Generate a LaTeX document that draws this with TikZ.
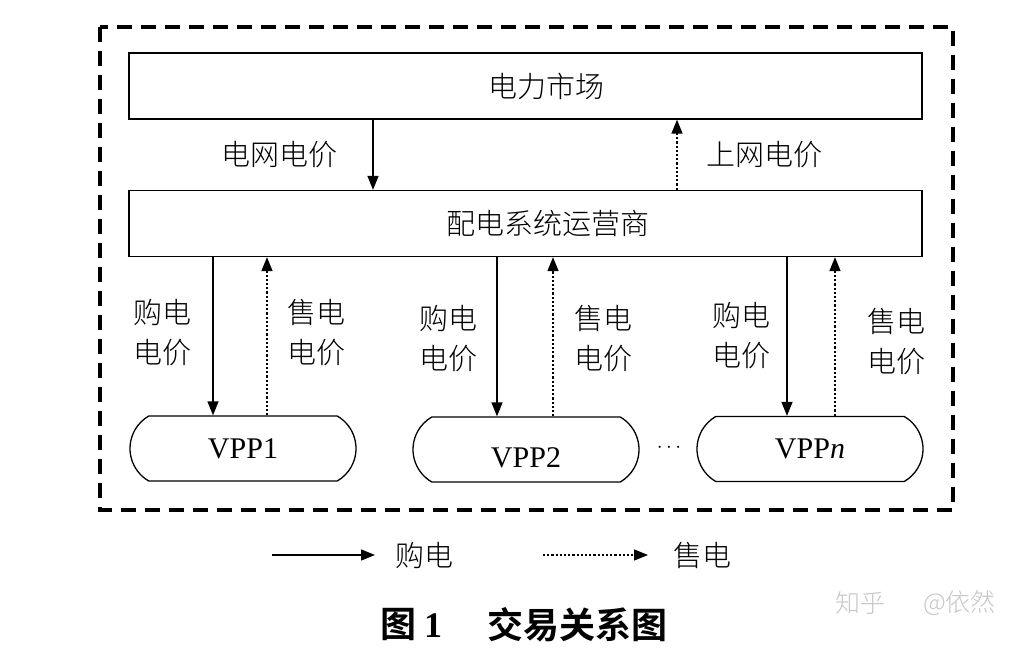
\documentclass[tikz,border=0pt]{standalone}
\usepackage{fontspec}
\setmainfont{Liberation Serif}
\newfontfamily\cjk{Noto Sans CJK SC Light}[BoldFont={Noto Sans CJK SC Bold}]
\usetikzlibrary{arrows.meta,shapes.misc}
\begin{document}
\begin{tikzpicture}[x=1pt,y=-1pt,
  box/.style={draw,line width=1.3pt,inner sep=0pt,minimum width=793pt,minimum height=66pt,
              font=\cjk\fontsize{29}{34}\selectfont},
  vpp/.style={draw,line width=1.3pt,rounded rectangle,rounded rectangle arc length=120,
              minimum width=226pt,minimum height=65pt,inner sep=0pt,
              font=\fontsize{30}{36}\selectfont},
  lbl/.style={font=\cjk\fontsize{29}{40}\selectfont,align=center,inner sep=0pt},
  buy/.style={line width=1.3pt,-{Triangle[length=14pt,width=11pt]}},
  sell/.style={line width=1.4pt,dash pattern=on 2.2pt off 2pt,-{Triangle[length=14pt,width=11pt]}},
  frame/.style={line width=4pt,dash pattern=on 15pt off 9pt}
]
\useasboundingbox (0,0) rectangle (1023,652);
\fill[white] (0,0) rectangle (1023,652);

% outer dashed frame
\draw[frame] (100,27) rectangle (953,510);

% main boxes
\node[box] (market) at (525.5,86) {\hspace*{42pt}电力市场};
\node[box] (dso) at (525.5,223.5) {\hspace*{44pt}配电系统运营商};

% VPP nodes
\node[vpp] (vpp1) at (243,448.5) {VPP1};
\node[vpp,text height=36pt,text depth=0pt] (vpp2) at (526,449.5) {VPP2};
\node[vpp] (vppn) at (810,449) {VPP\textit{n}};
\node[inner sep=0pt,font=\fontsize{22}{26}\selectfont] (dots) at (669,448) {$\cdots$};

% market <-> dso
\draw[buy] (market.south -| 373,0) -- (dso.north -| 373,0);
\draw[sell] (dso.north -| 677,0) -- (market.south -| 677,0);
\node[lbl] (lgrid) at (279,155) {电网电价};
\node[lbl] (lup) at (764,155) {上网电价};

% dso <-> VPPs
\draw[buy] (dso.south -| 213,0) -- (vpp1.north -| 213,0);
\draw[sell] (vpp1.north -| 267,0) -- (dso.south -| 267,0);
\draw[buy] (dso.south -| 497,0) -- (vpp2.north -| 497,0);
\draw[sell] (vpp2.north -| 553,0) -- (dso.south -| 553,0);
\draw[buy] (dso.south -| 787,0) -- (vppn.north -| 787,0);
\draw[sell] (vppn.north -| 835,0) -- (dso.south -| 835,0);

\node[lbl] (b1) at (162,333) {购电\\电价};
\node[lbl] (s1) at (316,333) {售电\\电价};
\node[lbl] (b2) at (448,339) {购电\\电价};
\node[lbl] (s2) at (603,339) {售电\\电价};
\node[lbl] (b3) at (741,336) {购电\\电价};
\node[lbl] (s3) at (896,342) {售电\\电价};

% legend
\coordinate (l1a) at (272,555);
\coordinate (l1b) at (375,555);
\draw[buy] (l1a) -- (l1b);
\node[lbl,anchor=west] (lbuy) at (395,555) {购电};
\coordinate (l2a) at (543,555);
\coordinate (l2b) at (648,555);
\draw[sell] (l2a) -- (l2b);
\node[lbl,anchor=west] (lsell) at (673,555) {售电};

% caption
\node[inner sep=0pt,anchor=west,font=\bfseries\fontsize{36}{40}\selectfont] (cap1) at (380,625) {{\cjk\bfseries 图}\hspace{8pt}1};
\node[inner sep=0pt,anchor=west,font=\cjk\bfseries\fontsize{36}{40}\selectfont] (cap2) at (487,625) {交易关系图};

% watermark
\node[inner sep=0pt,anchor=west,text=black!22,font=\cjk\fontsize{25}{28}\selectfont] (wm1) at (835,603) {知乎};
\node[inner sep=0pt,anchor=east,text=black!22,font=\cjk\fontsize{25}{28}\selectfont] (wm2) at (996,603) {@依然};
\end{tikzpicture}
\end{document}
